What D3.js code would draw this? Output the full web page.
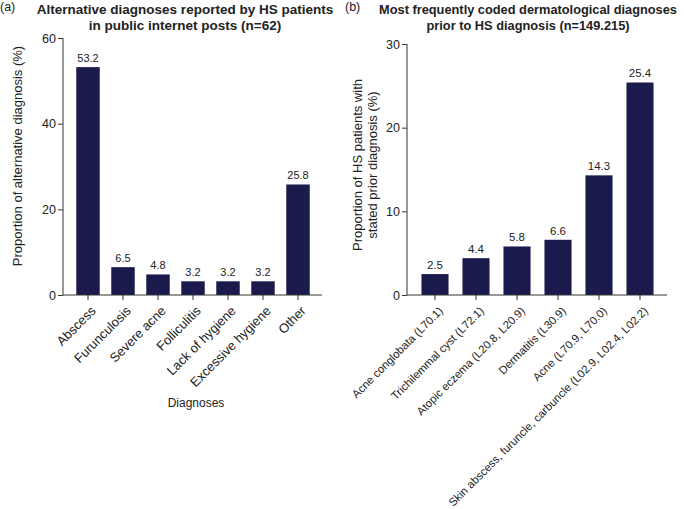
<!DOCTYPE html>
<html>
<head>
<meta charset="utf-8">
<script src="https://cdn.jsdelivr.net/npm/d3@7"></script>
<style>
  body { margin: 0; background: #fff; }
  text { font-family: "Liberation Sans", Arial, sans-serif; fill: #222; }
</style>
</head>
<body>
<svg width="684" height="509"></svg>
<script>
// panel (a)
const catsA = ["Abscess", "Furunculosis", "Severe acne", "Folliculitis", "Lack of hygiene", "Excessive hygiene", "Other"];
const valsA = [53.2, 6.5, 4.8, 3.2, 3.2, 3.2, 25.8];
const ticksA = [0, 20, 40, 60];

// panel (b)
const catsB = ["Acne conglobata (L70.1)", "Trichilemmal cyst (L72.1)", "Atopic eczema (L20.8, L20.9)",
  "Dermatitis (L30.9)", "Acne (L70.9, L70.0)", "Skin abscess, furuncle, carbuncle (L02.9, L02.4, L02.2)"];
const valsB = [2.5, 4.4, 5.8, 6.6, 14.3, 25.4];
const ticksB = [0, 10, 20, 30];

const barColor = "#1a1a4d";
const axisColor = "#333";

const svg = d3.select("svg");

function panel(opt) {
    const g = svg.append("g");
    const y = d3.scaleLinear().domain([0, opt.ymax]).range([opt.y0, opt.y1]);
    const x = d3.scaleBand().domain(opt.cats).range(opt.bandRange).paddingInner(opt.pad).paddingOuter(opt.pad / 2);

    // y axis
    const yAxis = g.append("g")
        .attr("transform", `translate(${opt.axisX},0)`)
        .call(d3.axisLeft(y).tickValues(opt.ticks).tickSize(5).tickPadding(2));
    yAxis.select(".domain").remove();
    yAxis.selectAll("line").attr("stroke", axisColor);
    yAxis.selectAll("text").attr("font-size", 12.5).style("font-family", "Liberation Sans, Arial, sans-serif").attr("fill", "#222");
    g.append("line")
        .attr("x1", opt.axisX).attr("x2", opt.axisX)
        .attr("y1", opt.y1).attr("y2", opt.y0)
        .attr("stroke", axisColor);

    // bars
    g.selectAll("rect")
        .data(opt.cats)
        .join("rect")
        .attr("x", d => x(d))
        .attr("width", x.bandwidth())
        .attr("y", (d, i) => y(opt.vals[i]))
        .attr("height", (d, i) => opt.y0 - y(opt.vals[i]))
        .attr("fill", barColor);

    // value labels
    g.selectAll(".val")
        .data(opt.cats)
        .join("text")
        .attr("class", "val")
        .attr("x", d => x(d) + x.bandwidth() / 2)
        .attr("y", (d, i) => y(opt.vals[i]) - 5)
        .attr("text-anchor", "middle")
        .attr("font-size", opt.valSize)
        .text((d, i) => opt.vals[i].toFixed(1));

    // x axis
    const xAxis = g.append("g")
        .attr("transform", `translate(0,${opt.y0})`)
        .call(d3.axisBottom(x).tickSize(5).tickSizeOuter(0));
    xAxis.select(".domain").remove();
    xAxis.selectAll("line").attr("stroke", axisColor);
    xAxis.selectAll("text")
        .attr("font-size", opt.labSize)
        .style("font-family", "Liberation Sans, Arial, sans-serif")
        .attr("fill", "#222")
        .attr("text-anchor", "end")
        .attr("dx", 0).attr("dy", 0)
        .attr("transform", "translate(3,11) rotate(-45)");
    g.append("line")
        .attr("x1", opt.axisX).attr("x2", opt.axisEnd)
        .attr("y1", opt.y0).attr("y2", opt.y0)
        .attr("stroke", axisColor);

    // title
    g.append("text")
        .attr("x", opt.tag[0]).attr("y", opt.tag[1])
        .attr("font-size", 12.5)
        .text(opt.tagText);
    opt.title.forEach((t, i) => {
        g.append("text")
            .attr("x", opt.titleX).attr("y", 14 + i * 16)
            .attr("text-anchor", "middle")
            .attr("font-size", opt.titleSize)
            .attr("font-weight", "bold")
            .text(t);
    });

    // y label
    opt.ylab.forEach((t, i) => {
        g.append("text")
            .attr("transform", `translate(${opt.ylabX + i * 15},${opt.ylabY}) rotate(-90)`)
            .attr("text-anchor", "middle")
            .attr("font-size", opt.ylabSize)
            .text(t);
    });
}

panel({
    cats: catsA, vals: valsA, ticks: ticksA, ymax: 60,
    y0: 295, y1: 38, axisX: 63, axisEnd: 322, bandRange: [70.5, 315.5], pad: 0.33,
    valSize: 11, labSize: 13,
    tag: [0, 11], tagText: "(a)",
    title: ["Alternative diagnoses reported by HS patients", "in public internet posts (n=62)"], titleX: 185, titleSize: 13.5,
    ylab: ["Proportion of alternative diagnosis (%)"], ylabX: 22, ylabY: 156, ylabSize: 13
});

panel({
    cats: catsB, vals: valsB, ticks: ticksB, ymax: 30,
    y0: 295, y1: 44, axisX: 407, axisEnd: 667, bandRange: [414.5, 660.5], pad: 0.34,
    valSize: 11.5, labSize: 11.3,
    tag: [345, 11], tagText: "(b)",
    title: ["Most frequently coded dermatological diagnoses", "prior to HS diagnosis (n=149.215)"], titleX: 528, titleSize: 12.8,
    ylab: ["Proportion of HS patients with", "stated prior diagnosis (%)"], ylabX: 362, ylabY: 165, ylabSize: 13
});

// x axis title of (a)
svg.append("text")
    .attr("x", 196).attr("y", 407)
    .attr("text-anchor", "middle")
    .attr("font-size", 12)
    .text("Diagnoses");
</script>
</body>
</html>
